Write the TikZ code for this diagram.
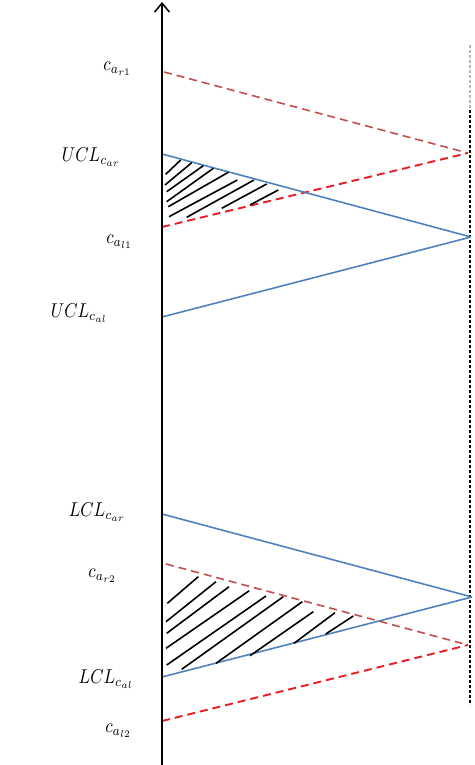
\documentclass[tikz,border=0pt]{standalone}
\usetikzlibrary{arrows.meta}
\definecolor{cblue}{RGB}{79,129,189}
\definecolor{cbrown}{RGB}{192,80,77}
\definecolor{cred}{RGB}{235,28,36}
\begin{document}
\begin{tikzpicture}[x=1pt,y=-1pt,
  lbl/.style={xscale=1.7, yscale=2.0, inner sep=0pt, anchor=east},
  blueline/.style={cblue, line width=1.6pt},
  browndash/.style={cbrown, line width=1.6pt, dash pattern=on 8pt off 5pt},
  reddash/.style={cred, line width=1.9pt, dash pattern=on 8pt off 5pt},
  hatch/.style={black, line width=1.6pt},
  vdash/.style={line width=1.4pt, dash pattern=on 3pt off 2pt}]
\useasboundingbox (0,0) rectangle (474,765);
% coordinates
\coordinate (axb) at (162,765);
\coordinate (axt) at (162,2);
\coordinate (vt) at (470,45);
\coordinate (vm) at (470,110);
\coordinate (vb) at (470,705);
\coordinate (r1) at (164,72);
\coordinate (rt) at (468,153);
\coordinate (l1) at (162,227);
\coordinate (ucar) at (162,154);
\coordinate (bt) at (471,237);
\coordinate (ucal) at (162,317);
\coordinate (lcar) at (162,514);
\coordinate (bb) at (472,597);
\coordinate (lcal) at (162,677);
\coordinate (r2) at (166,564);
\coordinate (rb) at (468,645);
\coordinate (l2) at (162,721);
% vertical dashed line
\draw[vdash, gray!55] (vt) -- (vm);
\draw[vdash, black] (vm) -- (vb);
% lines
\draw[browndash] (r1) -- (rt);
\draw[reddash] (l1) -- (rt);
\draw[blueline] (ucar) -- (bt);
\draw[blueline] (ucal) -- (bt);
\draw[blueline] (lcar) -- (bb);
\draw[blueline] (lcal) -- (bb);
\draw[browndash] (r2) -- (rb);
\draw[reddash] (l2) -- (rb);
% top hatches
\draw[hatch] (165.7,174.3) -- (180.7,160);
\draw[hatch] (165,185) -- (191.7,162.7);
\draw[hatch] (166.7,191.7) -- (203.3,165.7);
\draw[hatch] (166.7,201.7) -- (213.3,168.3);
\draw[hatch] (168.3,206.7) -- (228.3,172.3);
\draw[hatch] (169,216.7) -- (237.3,180);
\draw[hatch] (186.7,217.3) -- (254,180);
\draw[hatch] (221.7,208.3) -- (266.7,184);
\draw[hatch] (250,205) -- (278.3,190);
% bottom hatches
\draw[hatch] (167.3,603.3) -- (198.3,576.7);
\draw[hatch] (166,621.7) -- (216,581.7);
\draw[hatch] (166.7,633.3) -- (229,586.7);
\draw[hatch] (166,648.3) -- (249.3,590.7);
\draw[hatch] (166.7,665) -- (266,596);
\draw[hatch] (181.7,669.3) -- (283.3,596.7);
\draw[hatch] (216,663.3) -- (302.3,601.7);
\draw[hatch] (250,655.7) -- (313.3,611.7);
\draw[hatch] (294,643.3) -- (335,612.7);
\draw[hatch] (325.7,634) -- (353.3,616);
% axis
\draw[line width=1.8pt, -{Straight Barb[length=9pt,width=15pt,line width=1.5pt]}] (axb) -- (axt);
% labels
\node[lbl] (tar1) at (132,69) {$c_{a_{r1}}$};
\node[lbl] (tucar) at (121,157) {$UCL_{c_{ar}}$};
\node[lbl] (tal1) at (133,242) {$c_{a_{l1}}$};
\node[lbl] (tucal) at (108,313) {$UCL_{c_{al}}$};
\node[lbl] (tlcar) at (126,512) {$LCL_{c_{ar}}$};
\node[lbl] (tar2) at (117,576) {$c_{a_{r2}}$};
\node[lbl] (tlcal) at (134,679) {$LCL_{c_{al}}$};
\node[lbl] (tal2) at (132,731) {$c_{a_{l2}}$};
\end{tikzpicture}
\end{document}
